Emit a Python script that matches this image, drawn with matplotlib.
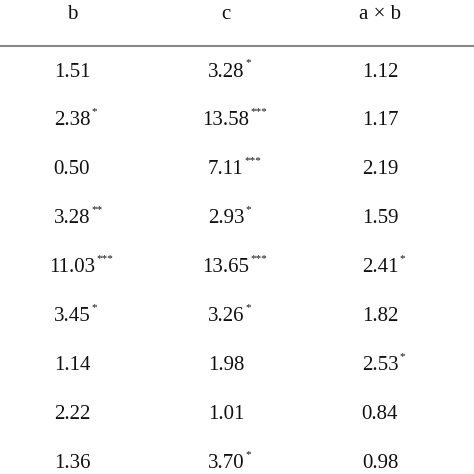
import matplotlib
matplotlib.use("Agg")
import matplotlib.pyplot as plt

headers = ["b", "c", "a × b"]
col_b = ["1.51", "2.38", "0.50", "3.28", "11.03", "3.45", "1.14", "2.22", "1.36"]
sig_b = ["", "*", "", "**", "***", "*", "", "", ""]
col_c = ["3.28", "13.58", "7.11", "2.93", "13.65", "3.26", "1.98", "1.01", "3.70"]
sig_c = ["*", "***", "***", "*", "***", "*", "", "", "*"]
col_ab = ["1.12", "1.17", "2.19", "1.59", "2.41", "1.82", "2.53", "0.84", "0.98"]
sig_ab = ["", "", "", "", "*", "", "*", "", ""]

fig = plt.figure(figsize=(4.74, 4.74), dpi=100)
ax = fig.add_axes([0, 0, 1, 1])
ax.set_xlim(0, 474)
ax.set_ylim(474, 0)
ax.axis("off")
font = dict(family=["Liberation Serif", "DejaVu Serif"], color="#111111")
xs = [72, 226, 380]
for x, h in zip(xs, headers):
    ax.text(x, 14, h, ha="center", va="center", fontsize=15, **font)
ax.plot([0, 474], [45.5, 45.5], color="#888888", lw=1.5)
cols = [(col_b, sig_b), (col_c, sig_c), (col_ab, sig_ab)]
for x, (vals, sigs) in zip(xs, cols):
    for i, (v, s) in enumerate(zip(vals, sigs)):
        y = 72 + i * 48.9
        t = ax.text(x, y, v, ha="center", va="center", fontsize=15, **font)
        if s:
            fig.canvas.draw()
            bb = t.get_window_extent()
            xr = bb.x1
            ax.text(xr + 1, y - 9, s, ha="left", va="center", fontsize=8, **font)
fig.savefig("out.png", dpi=100)
